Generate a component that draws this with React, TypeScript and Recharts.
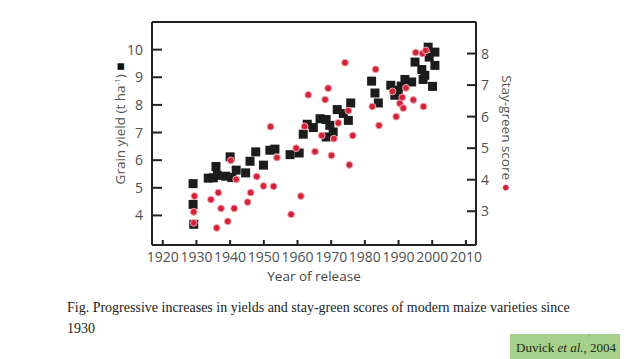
import React from "react";
import {
  ComposedChart,
  Scatter,
  XAxis,
  YAxis,
  ReferenceLine,
} from "recharts";

// grain yield (t/ha), black squares, left axis
const yieldYears = [
  1929, 1929, 1929.2, 1933.5, 1935, 1935.8, 1936.2, 1938.7, 1940, 1940.5,
  1941.8, 1944.6, 1945.9, 1947.6, 1949.9, 1951.8, 1953.3, 1957.8, 1960.5,
  1961.7, 1962.9, 1964.7, 1966.7, 1968.5, 1968.5, 1969.6, 1970.6, 1971.8,
  1973.6, 1975.1, 1975.8, 1982, 1983, 1984, 1987.7, 1988.9, 1989.9, 1990.8,
  1991.9, 1993.9, 1994.9, 1996.9, 1997.3, 1997.8, 1998.8, 1999.1, 2000.8,
  2000.8, 2000.1,
];
const yieldValues = [
  5.15, 4.4, 3.68, 5.35, 5.36, 5.77, 5.45, 5.42, 6.12, 5.37,
  5.64, 5.54, 5.96, 6.3, 5.82, 6.36, 6.4, 6.2, 6.26,
  6.94, 7.3, 7.18, 7.5, 7.47, 6.84, 7.26, 7.02, 7.83,
  7.69, 7.44, 8.07, 8.86, 8.43, 8.07, 8.71, 8.35, 8.53, 8.68,
  8.92, 8.83, 9.55, 9.28, 8.92, 9.07, 10.09, 9.73, 9.91,
  9.43, 8.67,
];

// stay-green score, red dots, right axis
const scoreYears = [
  1929.4, 1929.2, 1929.2, 1934.3, 1936.5, 1936, 1937.3, 1939.3, 1940.2, 1941.2,
  1941.8, 1945.2, 1946.1, 1947.9, 1949.9, 1952, 1952.9, 1953.9, 1958.1, 1959.6,
  1961, 1962.1, 1963.2, 1965.2, 1967.2, 1968.2, 1969.1, 1970.1, 1970.8, 1972.1,
  1974.1, 1975.1, 1975.4, 1976.4, 1982.2, 1983.2, 1984.2, 1988.2, 1989.3, 1990.4,
  1991.1, 1991.4, 1992.2, 1994.4, 1995.1, 1997.1, 1998.1, 1997.4,
];
const scoreValues = [
  3.48, 2.98, 2.63, 3.37, 3.59, 2.47, 3.09, 2.68, 4.61, 3.09,
  4.01, 3.29, 3.59, 4.1, 3.8, 5.68, 3.79, 4.7, 2.9, 5.0,
  3.48, 5.69, 6.69, 4.89, 5.4, 6.54, 6.9, 4.77, 5.3, 5.8,
  7.71, 6.19, 4.47, 5.4, 6.32, 7.5, 5.72, 6.8, 6.0, 6.42,
  6.61, 6.27, 6.91, 6.53, 8.03, 8.0, 8.1, 6.32,
];

const yearTicks = [1920, 1930, 1940, 1950, 1960, 1970, 1980, 1990, 2000, 2010];
const yieldTicks = [4, 5, 6, 7, 8, 9, 10];
const scoreTicks = [3, 4, 5, 6, 7, 8];

const yieldData = yieldYears.map((year, i) => ({ year, value: yieldValues[i] }));
const scoreData = scoreYears.map((year, i) => ({ year, value: scoreValues[i] }));

const FONT = "'Open Sans', sans-serif";
const SERIF = "'Liberation Serif', serif";
const AXIS = "#222";
const TICK = { fontSize: 14, fill: "#505050", fontFamily: FONT };

const Square = (p: any) => (
  <rect x={p.cx - 4.5} y={p.cy - 4.5} width={9} height={9} fill="#1c1c1c" />
);

const Dot = (p: any) => (
  <circle cx={p.cx} cy={p.cy} r={3.4} fill="#d3233a" stroke="#f2a7b0" strokeWidth={1} />
);

function LeftTitle(props: any) {
  const vb = props.viewBox;
  const x = vb.x + 33;
  const y = vb.y + vb.height / 2 - 10;
  return (
    <text
      x={x}
      y={y}
      transform={`rotate(-90 ${x} ${y})`}
      textAnchor="middle"
      fontSize={13.5}
      fill="#555"
      fontFamily={FONT}
    >
      Grain yield (t ha
      <tspan dy={-5} fontSize={8}>-1</tspan>
      <tspan dy={5}>) </tspan>
      <tspan fill="#111">■</tspan>
    </text>
  );
}

function RightTitle(props: any) {
  const vb = props.viewBox;
  const x = vb.x + 26;
  const y = vb.y + vb.height / 2;
  return (
    <text
      x={x}
      y={y}
      transform={`rotate(90 ${x} ${y})`}
      textAnchor="middle"
      fontSize={13.5}
      fill="#555"
      fontFamily={FONT}
    >
      Stay-green score <tspan fill="#d3233a">●</tspan>
    </text>
  );
}

function BottomTitle(props: any) {
  const vb = props.viewBox;
  return (
    <text
      x={vb.x + vb.width / 2}
      y={vb.y + 36}
      textAnchor="middle"
      fontSize={13.5}
      fill="#444"
      fontFamily={FONT}
    >
      Year of release
    </text>
  );
}

export default function App() {
  return (
    <div
      style={{
        position: "absolute",
        left: 0,
        top: 0,
        width: 638,
        height: 359,
        background: "#fff",
        overflow: "hidden",
      }}
    >
      <ComposedChart
        width={638}
        height={290}
        margin={{ top: 22, right: 102, bottom: 5, left: 92 }}
      >
        <XAxis
          type="number"
          dataKey="year"
          domain={[1916.8, 2013]}
          ticks={yearTicks}
          allowDataOverflow
          height={40}
          tick={TICK}
          tickSize={-5}
          tickMargin={12}
          axisLine={{ stroke: AXIS, strokeWidth: 2 }}
          tickLine={{ stroke: AXIS, strokeWidth: 2 }}
          label={{ content: BottomTitle }}
        />
        <YAxis
          yAxisId="left"
          type="number"
          domain={[2.93, 11]}
          ticks={yieldTicks}
          allowDataOverflow
          width={60}
          tick={TICK}
          tickSize={-10}
          tickMargin={19}
          axisLine={{ stroke: AXIS, strokeWidth: 2 }}
          tickLine={{ stroke: AXIS, strokeWidth: 2 }}
          label={{ content: LeftTitle }}
        />
        <YAxis
          yAxisId="right"
          orientation="right"
          type="number"
          domain={[1.93, 9]}
          ticks={scoreTicks}
          allowDataOverflow
          width={60}
          tick={TICK}
          tickSize={-9}
          tickMargin={14}
          axisLine={{ stroke: AXIS, strokeWidth: 2 }}
          tickLine={{ stroke: AXIS, strokeWidth: 2 }}
          label={{ content: RightTitle }}
        />
        <ReferenceLine yAxisId="left" y={11} stroke={AXIS} strokeWidth={2} />
        <Scatter
          yAxisId="left"
          data={yieldData}
          dataKey="value"
          shape={Square}
          isAnimationActive={false}
        />
        <Scatter
          yAxisId="right"
          data={scoreData}
          dataKey="value"
          shape={Dot}
          isAnimationActive={false}
        />
      </ComposedChart>
      <svg
        width={638}
        height={359}
        style={{ position: "absolute", left: 0, top: 0, pointerEvents: "none" }}
      >
        <text x={67} y={312} fontSize={14} fill="#222" fontFamily={SERIF}>
          Fig. Progressive increases in yields and stay-green scores of modern maize varieties since
        </text>
        <text x={67} y={333} fontSize={14} fill="#222" fontFamily={SERIF}>
          1930
        </text>
        <rect x={510} y={334} width={110} height={25} fill="#a8d08d" />
        <text x={516} y={352} fontSize={13} fill="#1e2a16" fontFamily={SERIF}>
          Duvick <tspan fontStyle="italic">et al.</tspan>, 2004
        </text>
        <text x={587} y={338} fontSize={6} fill="#8a9" fontFamily={FONT}>
          7
        </text>
      </svg>
    </div>
  );
}
